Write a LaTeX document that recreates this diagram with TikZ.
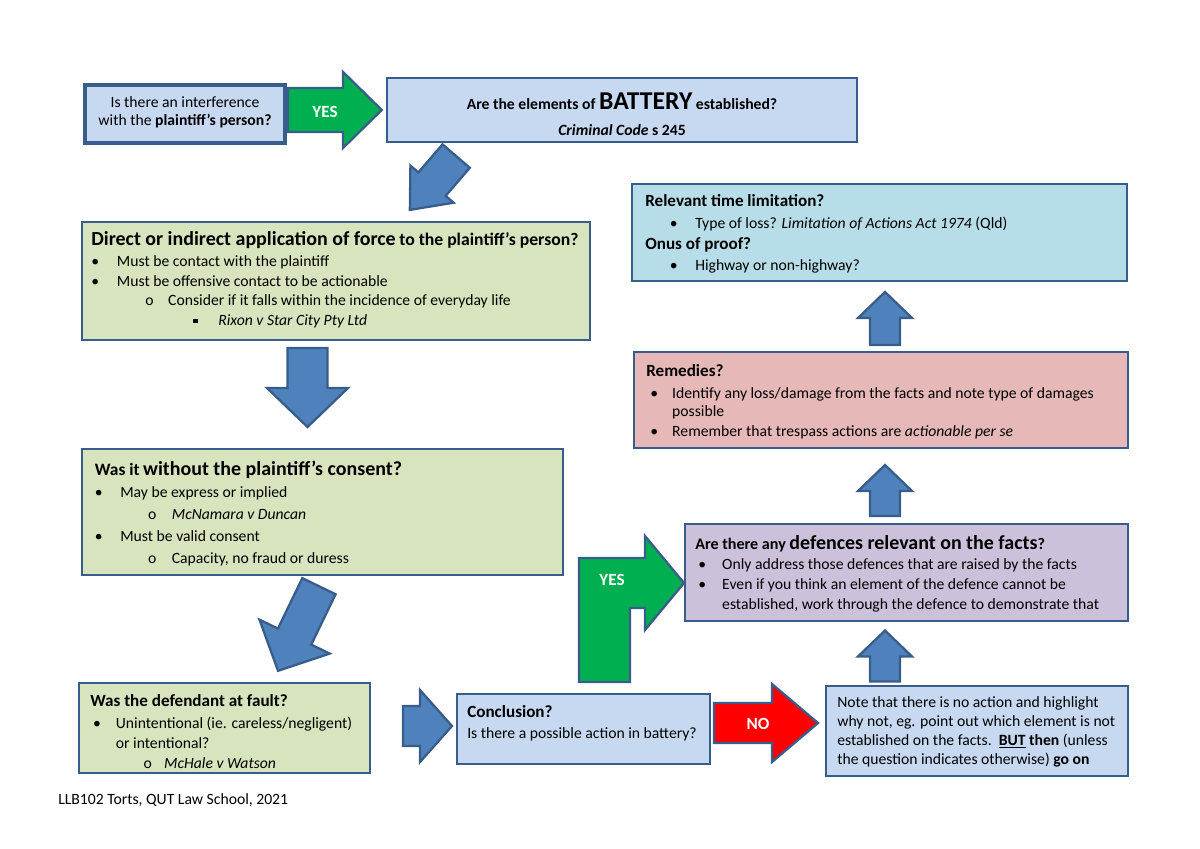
\documentclass[tikz,border=0pt]{standalone}
\usepackage{fontspec}
\setmainfont{Carlito}
\usetikzlibrary{fit,calc}
\definecolor{bord}{HTML}{385D8A}
\definecolor{lblue}{HTML}{C6D9F1}
\definecolor{lgreen}{HTML}{D7E4BD}
\definecolor{lpurple}{HTML}{CCC1DA}
\definecolor{lpink}{HTML}{E6B9B8}
\definecolor{lteal}{HTML}{B7DEE8}
\definecolor{abl}{HTML}{4F81BD}
\definecolor{agr}{HTML}{00B050}
\definecolor{ared}{HTML}{FF0000}
\newcommand\itm[3]{\hspace*{#1}\makebox[#2][l]{#3}}
\newcommand\sqb{\rule[1.2pt]{3.2pt}{3.2pt}}
\newcommand\strt{\rule{0pt}{11pt}}
% #1 style, #2 name, #3 centre, #4 angle, #5 length, #6 body half, #7 head half, #8 head length
\newcommand\barrow[8]{%
\begin{scope}[shift={#3}, rotate=#4]
\coordinate (#2) at (0,0);
\draw[#1] ({-#5/2},{-#6}) -- ({#5/2-#8},{-#6}) -- ({#5/2-#8},{-#7}) -- ({#5/2},0)
  -- ({#5/2-#8},{#7}) -- ({#5/2-#8},{#6}) -- ({-#5/2},{#6}) -- cycle;
\end{scope}}
\begin{document}
\begin{tikzpicture}[x=0.7017pt,y=-0.7017pt,
  box/.style={draw=bord, line width=1.4pt, inner sep=0pt},
  txt/.style={inner sep=0pt, anchor=north west, align=left},
  blk/.style={draw=bord, line width=1.6pt, fill=abl},
  lbl/.style={inner sep=0pt, text=white, font=\bfseries\fontsize{12}{14}\selectfont}]
\useasboundingbox (0,0) rectangle (1200,849);

% boxes
\node[box, fill=lblue, line width=2.2pt, fit={(85,85) (285,143)}] (A) {};
\node[box, fill=lblue, fit={(387,78) (857,142)}] (B) {};
\node[box, fill=lgreen, fit={(82,222) (590,340)}] (C) {};
\node[box, fill=lgreen, fit={(82,449) (563,575)}] (D) {};
\node[box, fill=lgreen, fit={(79,683) (370,773)}] (E) {};
\node[box, fill=lblue, fit={(457,694) (710,764)}] (F) {};
\node[box, fill=lblue, fit={(826,686) (1128,776)}] (G) {};
\node[box, fill=lpurple, fit={(685,524) (1128,621)}] (H) {};
\node[box, fill=lpink, fit={(634,352) (1128,448)}] (I) {};
\node[box, fill=lteal, fit={(632,184) (1127,281)}] (J) {};

% texts
\node[txt, anchor=north, align=center, font=\fontsize{11}{12.6}\selectfont] (At) at (185,91.3)
 {\strt Is there an interference\\with the \textbf{plaintiff’s person?}};
\node[txt, anchor=north, align=center, font=\bfseries\fontsize{11}{13.4}\selectfont] (Bt) at (622,92.6)
 {\strt Are the elements of {\fontsize{18}{20}\selectfont BATTERY} established?\\[4.6pt]\textit{Criminal Code} s 245};

\node[txt, font=\fontsize{11}{13.65}\selectfont] (Ct) at (91,230)
 {\strt\textbf{{\fontsize{14}{16}\selectfont Direct or indirect application of force} {\fontsize{12.4}{15}\selectfont to the plaintiff’s person?}}\\[1pt]
 \itm{0pt}{18pt}{•}Must be contact with the plaintiff\\
 \itm{0pt}{18pt}{•}Must be offensive contact to be actionable\\
 \itm{37.9pt}{16.1pt}{o}Consider if it falls within the incidence of everyday life\\
 \itm{71.6pt}{17.5pt}{\sqb}\textit{Rixon v Star City Pty Ltd}};

\node[txt, font=\fontsize{11}{15.5}\selectfont] (Dt) at (94.5,459.3)
 {\strt\textbf{{\fontsize{12.2}{15}\selectfont Was it} {\fontsize{14}{16}\selectfont without the plaintiff’s consent?}}\\
 \itm{0pt}{17.9pt}{•}May be express or implied\\
 \itm{37.5pt}{16.6pt}{o}\textit{McNamara v Duncan}\\
 \itm{0pt}{17.9pt}{•}Must be valid consent\\
 \itm{37.5pt}{16.6pt}{o}Capacity, no fraud or duress};

\node[txt, font=\fontsize{11}{14}\selectfont] (Et) at (90,690.3)
 {\strt\textbf{\fontsize{12}{14}\selectfont Was the defendant at fault?}\\[1.4pt]
 \itm{2pt}{16pt}{•}Unintentional (ie. careless/negligent)\\
 \hspace*{18pt}or intentional?\\
 \itm{37.5pt}{14.4pt}{o}\textit{McHale v Watson}};

\node[txt, font=\fontsize{11}{14.7}\selectfont] (Ft) at (467,701.3)
 {\strt\textbf{\fontsize{12}{14}\selectfont Conclusion?}\\Is there a possible action in battery?};

\node[txt, font=\fontsize{11}{13.3}\selectfont] (Gt) at (837,691.3)
 {\strt Note that there is no action and highlight\\
 why not, eg. point out which element is not\\
 established on the facts.\ \ \underline{\textbf{BUT}} \textbf{then} (unless\\
 the question indicates otherwise) \textbf{go on}};

\node[txt, font=\fontsize{11}{14}\selectfont] (Ht) at (695,533.3)
 {\strt\textbf{{\fontsize{11.3}{13}\selectfont Are there any} {\fontsize{14}{16}\selectfont defences relevant on the facts}{\fontsize{11.3}{13}\selectfont ?}}\\
 \itm{2.1pt}{16.8pt}{•}Only address those defences that are raised by the facts\\
 \itm{2.1pt}{16.8pt}{•}Even if you think an element of the defence cannot be\\
 \hspace*{18.9pt}established, work through the defence to demonstrate that};

\node[txt, font=\fontsize{11}{12.6}\selectfont] (It) at (646,361)
 {\strt\textbf{\fontsize{12}{14}\selectfont Remedies?}\\[2.8pt]
 \itm{2.8pt}{15.4pt}{•}Identify any loss/damage from the facts and note type of damages\\
 \hspace*{18.2pt}possible\\[1.4pt]
 \itm{2.8pt}{15.4pt}{•}Remember that trespass actions are \textit{actionable per se}};

\node[txt, font=\fontsize{11}{14.6}\selectfont] (Jt) at (645,191)
 {\strt\textbf{\fontsize{12}{14}\selectfont Relevant time limitation?}\\[0.7pt]
 \itm{17.2pt}{17.9pt}{•}Type of loss? \textit{Limitation of Actions Act 1974} (Qld)\\
 \textbf{\fontsize{12}{14}\selectfont Onus of proof?}\\
 \itm{17.2pt}{17.9pt}{•}Highway or non-highway?};

% block arrows
\barrow{blk, fill=agr}{yes1}{(334.9,110)}{0}{93.7}{22}{38}{38.7}
\node[lbl] (yes1l) at (325,112) {YES};
\barrow{blk}{dg1}{(433,183)}{-130.7}{71}{18}{28.5}{34}
\barrow{blk}{dn1}{(307.5,387.5)}{-90}{79}{20}{40.5}{39}
\barrow{blk}{dg2}{(298.5,628.5)}{-115.8}{94}{18.5}{39}{38}
\barrow{blk}{rt1}{(427.5,726)}{0}{49}{20}{36}{32}
\barrow{blk, fill=ared}{no1}{(766,723)}{0}{104}{20}{39}{46}
\node[lbl] (nol) at (758,724) {NO};
\barrow{blk}{up1}{(885,656)}{90}{51}{15}{27}{26}
\barrow{blk}{up2}{(885,490.5)}{90}{51}{15}{27}{26}
\barrow{blk}{up3}{(885,318.5)}{90}{53}{15}{27}{26}
\draw[blk, fill=agr] (579,682) -- (579,558) -- (645,558) -- (645,536) -- (684,583)
  -- (645,630) -- (645,608) -- (630,608) -- (630,682) -- cycle;
\node[lbl] (yes2l) at (612,580) {YES};

\node[inner sep=0pt, anchor=base west, font=\fontsize{11}{13}\selectfont] (foot) at (58,804.5)
 {LLB102 Torts, QUT Law School, 2021};
\end{tikzpicture}
\end{document}
